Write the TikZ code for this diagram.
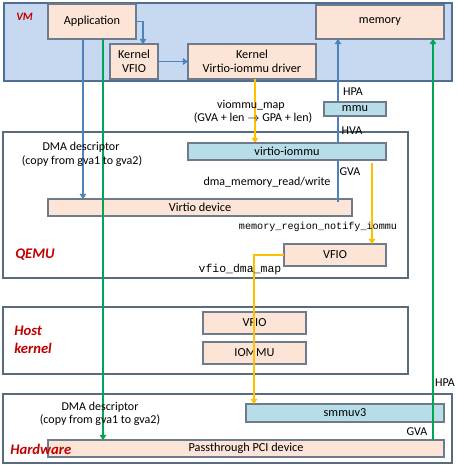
\documentclass[tikz,border=0pt]{standalone}
\usepackage{fontspec}
\setmainfont{Carlito}
\newfontfamily\monof{Liberation Mono}
\usetikzlibrary{arrows.meta,calc}
\definecolor{vmfill}{HTML}{C6D9F1}
\definecolor{vmedge}{HTML}{4F6E91}
\definecolor{peach}{HTML}{FCE4D6}
\definecolor{boxedge}{HTML}{6D7B8D}
\definecolor{ltblue}{HTML}{B7DDE8}
\definecolor{arrblue}{HTML}{4F81BD}
\definecolor{arrgreen}{HTML}{00A651}
\definecolor{arryellow}{HTML}{FFC000}
\definecolor{lblred}{HTML}{C00000}
\definecolor{frameedge}{HTML}{5A6B7D}
\newcommand\mkbox[7]{\node[#2, minimum width={(#5-#3)*0.75pt}, minimum height={(#6-#4)*0.75pt}] (#1) at ({(#3+#5)/2},{(#4+#6)/2}) {#7};}
\tikzset{
  basebox/.style={inner sep=0pt, outer sep=0pt, align=center, line width=0.8pt,
    font=\fontsize{9.2}{10.6}\selectfont},
  pbox/.style={basebox, draw=boxedge, fill=peach},
  lbox/.style={basebox, draw=boxedge, fill=ltblue},
  vmframe/.style={basebox, draw=vmedge, fill=vmfill},
  frame/.style={basebox, draw=frameedge},
  tip/.style={-{Triangle[length=3.8pt,width=5pt]}},
  barrow/.style={tip, draw=arrblue, line width=0.8pt},
  garrow/.style={tip, draw=arrgreen, line width=0.8pt, fill=arrgreen},
  yarrow/.style={tip, draw=arryellow, line width=0.8pt},
  txt/.style={inner sep=0pt, font=\fontsize{9}{11}\selectfont},
  mtxt/.style={inner sep=0pt, font=\monof\fontsize{7.6}{9}\selectfont},
  layer/.style={inner sep=0pt, anchor=west, align=left, text=lblred,
    font=\bfseries\itshape\fontsize{11}{13.5}\selectfont},
}
\begin{document}
\begin{tikzpicture}[x=0.75pt,y=-0.75pt]
\useasboundingbox (0,0) rectangle (457,465);
% frames
\mkbox{vm}{vmframe}{4}{3}{452}{81}{}
\mkbox{qemu}{frame}{3}{132}{408}{278}{}
\mkbox{host}{frame}{3}{307}{408}{374}{}
\mkbox{hw}{frame}{3}{394}{452}{463}{}
% boxes
\mkbox{app}{pbox}{48}{4}{136}{39}{Application}
\mkbox{kvfio}{pbox}{110}{44}{158}{79}{Kernel\\VFIO}
\mkbox{kdrv}{pbox}{188}{44}{316}{79}{Kernel\\Virtio-iommu driver}
\mkbox{mem}{pbox}{316}{5}{444}{39}{memory}
\mkbox{vdev}{pbox}{48}{199}{352}{216}{Virtio device}
\mkbox{qvfio}{pbox}{284}{244}{386}{266}{VFIO}
\mkbox{hvfio}{pbox}{203}{312}{306}{334}{VFIO}
\mkbox{iommu}{pbox}{203}{342}{306}{364}{IOMMU}
\mkbox{smmu}{lbox}{246}{404}{444}{422}{smmuv3}
\mkbox{pci}{pbox}{48}{440}{444}{457}{Passthrough PCI device}
% guide coordinates
\coordinate (bx1) at (83,0);
\coordinate (gx1) at (103,0);
\coordinate (yx1) at (255,0);
\coordinate (bx2) at (338,0);
\coordinate (yx2) at (372,0);
\coordinate (yx3) at (254,0);
\coordinate (gx2) at (433,0);
% connectors
\draw[barrow] (app.east) -| ([xshift=6.75pt]kvfio.north);
\draw[barrow] (kvfio.east) -- (kdrv.west);
\draw[barrow] (app.south -| bx1) -- (vdev.north -| bx1);
\draw[garrow] (app.south -| gx1) -- (pci.north -| gx1);
\draw[barrow] ($(vdev.north -| bx2)+(0,3)$) -- (mem.south -| bx2);
\draw[garrow] (pci.north -| gx2) -- (mem.south -| gx2);
\draw[yarrow] (kdrv.south -| yx1) -- (yx1 |- 0,143);
\draw[yarrow] (372,163) -- (qvfio.north -| yx2);
\draw[yarrow] (qvfio.west) -| (smmu.north -| yx3);
% boxes on top of the blue line
\mkbox{mmu}{lbox}{324}{102}{386}{116}{mmu}
\mkbox{viommu}{lbox}{188}{143}{386}{160}{virtio-iommu}
% labels
\node[txt] (l1) at (251,105) {viommu\_map};
\node[txt] (l2) at (253,118) {(GVA + len $\rightarrow$ GPA + len)};
\node[txt] (l3) at (353,92) {HPA};
\node[txt] (l4) at (352,131) {HVA};
\node[txt] (l5) at (350,172) {GVA};
\node[txt] (l6) at (267,182) {dma\_memory\_read/write};
\node[mtxt] (l7) at (318,227) {memory\_region\_notify\_iommu};
\node[mtxt, font=\monof\fontsize{8.6}{10}\selectfont] (l8) at (240,270) {vfio\_dma\_map};
\node[txt] (l9) at (81,147) {DMA descriptor};
\node[txt] (l10) at (82,161) {(copy from gva1 to gva2)};
\node[txt] (l11) at (100,407) {DMA descriptor};
\node[txt] (l12) at (100,420) {(copy from gva1 to gva2)};
\node[txt] (l13) at (445,383) {HPA};
\node[txt] (l14) at (417,432) {GVA};
\node[layer, font=\bfseries\itshape\fontsize{8.5}{10}\selectfont] (lvm) at (16,17) {VM};
\node[layer] (lqemu) at (15,255) {QEMU};
\node[layer] (lhost) at (14,340) {Host\\kernel};
\node[layer] (lhw) at (10,449) {Hardware};
\end{tikzpicture}
\end{document}
